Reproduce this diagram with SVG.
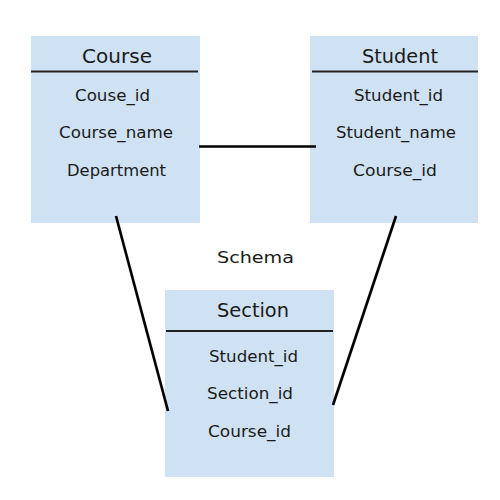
<svg xmlns="http://www.w3.org/2000/svg" width="500" height="500" viewBox="0 0 500 500">
<style>
.box{fill:#cfe2f3;}
.div{stroke:#222;stroke-width:2;}
.title{font-family:"DejaVu Sans",sans-serif;font-size:19px;fill:#1a1a1a;text-anchor:middle;}
.row{font-family:"DejaVu Sans",sans-serif;font-size:16px;fill:#1a1a1a;text-anchor:middle;}
.con{stroke:#000;stroke-width:2.7;fill:none;}
</style>
<rect width="500" height="500" fill="#fff"/>
<g id="course">
<rect class="box" x="31" y="36" width="169" height="187"/>
<line class="div" x1="31" y1="71.5" x2="198" y2="71.5"/>
<text class="title" x="117" y="63" textLength="70" lengthAdjust="spacingAndGlyphs">Course</text>
<text class="row" x="112.5" y="101" textLength="75" lengthAdjust="spacingAndGlyphs">Couse_id</text>
<text class="row" x="116" y="138" textLength="114" lengthAdjust="spacingAndGlyphs">Course_name</text>
<text class="row" x="116.5" y="176" textLength="99" lengthAdjust="spacingAndGlyphs">Department</text>
</g>
<g id="student">
<rect class="box" x="310" y="36" width="168" height="187"/>
<line class="div" x1="312" y1="71.5" x2="478" y2="71.5"/>
<text class="title" x="400" y="63" textLength="76" lengthAdjust="spacingAndGlyphs">Student</text>
<text class="row" x="398.5" y="101" textLength="89" lengthAdjust="spacingAndGlyphs">Student_id</text>
<text class="row" x="396" y="138" textLength="120" lengthAdjust="spacingAndGlyphs">Student_name</text>
<text class="row" x="395" y="176" textLength="84" lengthAdjust="spacingAndGlyphs">Course_id</text>
</g>
<g id="schema">
<text class="row" x="255.5" y="263" textLength="77" lengthAdjust="spacingAndGlyphs">Schema</text>
</g>
<g id="section">
<rect class="box" x="165" y="290" width="169" height="187"/>
<line class="div" x1="166" y1="331" x2="333" y2="331"/>
<text class="title" x="253" y="317" textLength="72" lengthAdjust="spacingAndGlyphs">Section</text>
<text class="row" x="253.5" y="362" textLength="89" lengthAdjust="spacingAndGlyphs">Student_id</text>
<text class="row" x="250" y="399" textLength="86" lengthAdjust="spacingAndGlyphs">Section_id</text>
<text class="row" x="249.5" y="437" textLength="83" lengthAdjust="spacingAndGlyphs">Course_id</text>
</g>
<g id="connectors">
<line class="con" x1="199" y1="146.5" x2="316" y2="146.5"/>
<line class="con" x1="116" y1="216" x2="168" y2="411"/>
<line class="con" x1="396" y1="216" x2="333" y2="405"/>
</g>
</svg>
